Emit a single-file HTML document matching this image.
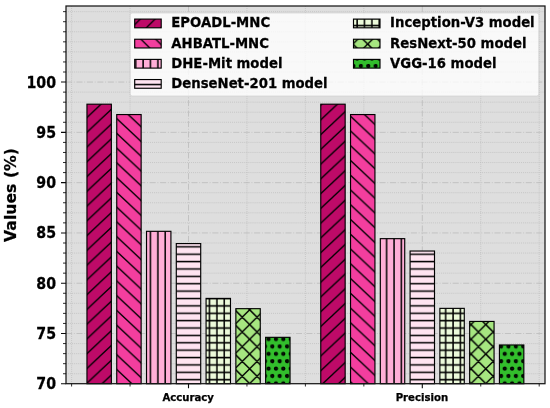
<!DOCTYPE html>
<html lang="en"><head><meta charset="utf-8"><title>Comparative analysis chart</title>
<style>html,body{margin:0;padding:0;background:#fff;}svg{display:block;}text{font-family:"DejaVu Sans", "Liberation Sans", sans-serif;font-weight:bold;fill:#000;}</style></head><body>
<svg width="550" height="408" viewBox="0 0 550 408">
<rect x="0" y="0" width="550" height="408" fill="#ffffff"/>
<defs>
<pattern id="h-ne" patternUnits="userSpaceOnUse" x="0" y="0" width="14.760" height="14.760"><path d="M13.30 -14.76L-30.98 29.52M28.06 -14.76L-16.22 29.52M42.82 -14.76L-1.46 29.52M57.58 -14.76L13.30 29.52" stroke="#000" stroke-width="1.30" fill="none"/></pattern>
<pattern id="h-se" patternUnits="userSpaceOnUse" x="0" y="0" width="14.760" height="14.760"><path d="M-45.38 -14.76L-1.10 29.52M-30.62 -14.76L13.66 29.52M-15.86 -14.76L28.42 29.52M-1.10 -14.76L43.18 29.52M13.66 -14.76L57.94 29.52" stroke="#000" stroke-width="1.30" fill="none"/></pattern>
<pattern id="h-x" patternUnits="userSpaceOnUse" x="0" y="0" width="14.760" height="14.760"><path d="M13.30 -14.76L-30.98 29.52M28.06 -14.76L-16.22 29.52M42.82 -14.76L-1.46 29.52M57.58 -14.76L13.30 29.52M-45.38 -14.76L-1.10 29.52M-30.62 -14.76L13.66 29.52M-15.86 -14.76L28.42 29.52M-1.10 -14.76L43.18 29.52M13.66 -14.76L57.94 29.52" stroke="#000" stroke-width="1.42" fill="none"/></pattern>
<pattern id="h-v" patternUnits="userSpaceOnUse" x="0" y="0" width="7.380" height="7.380"><path d="M2.90 -1V8.38" stroke="#000" stroke-width="1.50" fill="none"/></pattern>
<pattern id="h-h" patternUnits="userSpaceOnUse" x="0" y="0" width="7.380" height="7.380"><path d="M-1 3.30H8.38" stroke="#000" stroke-width="1.50" fill="none"/></pattern>
<pattern id="h-plus" patternUnits="userSpaceOnUse" x="0" y="0" width="7.380" height="7.380"><path d="M2.90 -1V8.38M-1 3.30H8.38" stroke="#000" stroke-width="1.50" fill="none"/></pattern>
<pattern id="h-o" patternUnits="userSpaceOnUse" x="0" y="0" width="7.380" height="14.760"><g stroke="#000" stroke-width="1.50" fill="#0a2a0a"><circle cx="-0.79" cy="-7.77" r="1.35"/><circle cx="-0.79" cy="6.99" r="1.35"/><circle cx="-0.79" cy="21.75" r="1.35"/><circle cx="6.59" cy="-7.77" r="1.35"/><circle cx="6.59" cy="6.99" r="1.35"/><circle cx="6.59" cy="21.75" r="1.35"/><circle cx="13.97" cy="-7.77" r="1.35"/><circle cx="13.97" cy="6.99" r="1.35"/><circle cx="13.97" cy="21.75" r="1.35"/><circle cx="-4.48" cy="-0.39" r="1.35"/><circle cx="-4.48" cy="14.37" r="1.35"/><circle cx="-4.48" cy="29.13" r="1.35"/><circle cx="2.90" cy="-0.39" r="1.35"/><circle cx="2.90" cy="14.37" r="1.35"/><circle cx="2.90" cy="29.13" r="1.35"/><circle cx="10.28" cy="-0.39" r="1.35"/><circle cx="10.28" cy="14.37" r="1.35"/><circle cx="10.28" cy="29.13" r="1.35"/></g></pattern>
<pattern id="d-0-0" patternUnits="userSpaceOnUse" x="99.16" y="2.70" width="15.702" height="14.760"><path d="M-15.70 0.00L31.40 -44.28M-15.70 14.76L31.40 -29.52M-15.70 29.52L31.40 -14.76M-15.70 44.28L31.40 0.00" stroke="#000" stroke-width="1.30" fill="none"/></pattern>
<pattern id="d-0-1" patternUnits="userSpaceOnUse" x="128.94" y="11.96" width="15.702" height="14.760"><path d="M-15.70 -44.28L31.40 0.00M-15.70 -29.52L31.40 14.76M-15.70 -14.76L31.40 29.52M-15.70 0.00L31.40 44.28" stroke="#000" stroke-width="1.30" fill="none"/></pattern>
<pattern id="d-1-0" patternUnits="userSpaceOnUse" x="332.96" y="5.06" width="15.702" height="14.760"><path d="M-15.70 0.00L31.40 -44.28M-15.70 14.76L31.40 -29.52M-15.70 29.52L31.40 -14.76M-15.70 44.28L31.40 0.00" stroke="#000" stroke-width="1.30" fill="none"/></pattern>
<pattern id="d-1-1" patternUnits="userSpaceOnUse" x="362.74" y="9.60" width="15.702" height="14.760"><path d="M-15.70 -44.28L31.40 0.00M-15.70 -29.52L31.40 14.76M-15.70 -14.76L31.40 29.52M-15.70 0.00L31.40 44.28" stroke="#000" stroke-width="1.30" fill="none"/></pattern>
<pattern id="d-l-0" patternUnits="userSpaceOnUse" x="147.95" y="11.45" width="14.760" height="14.760"><path d="M-14.76 0.00L29.52 -44.28M-14.76 14.76L29.52 -29.52M-14.76 29.52L29.52 -14.76M-14.76 44.28L29.52 0.00" stroke="#000" stroke-width="1.30" fill="none"/></pattern>
<pattern id="d-l-1" patternUnits="userSpaceOnUse" x="147.95" y="1.95" width="14.760" height="14.760"><path d="M-14.76 -44.28L29.52 0.00M-14.76 -29.52L29.52 14.76M-14.76 -14.76L29.52 29.52M-14.76 0.00L29.52 44.28" stroke="#000" stroke-width="1.30" fill="none"/></pattern>
</defs>
<rect x="66.00" y="6.00" width="479.00" height="377.70" fill="#DEDEDE"/>
<path d="M66.00 373.74H545.00M66.00 363.68H545.00M66.00 353.63H545.00M66.00 343.57H545.00M66.00 323.45H545.00M66.00 313.39H545.00M66.00 303.34H545.00M66.00 293.28H545.00M66.00 273.16H545.00M66.00 263.10H545.00M66.00 253.05H545.00M66.00 242.99H545.00M66.00 222.87H545.00M66.00 212.81H545.00M66.00 202.76H545.00M66.00 192.70H545.00M66.00 172.58H545.00M66.00 162.52H545.00M66.00 152.47H545.00M66.00 142.41H545.00M66.00 122.29H545.00M66.00 112.23H545.00M66.00 102.18H545.00M66.00 92.12H545.00M66.00 72.00H545.00M66.00 61.94H545.00M66.00 51.89H545.00M66.00 41.83H545.00M66.00 31.77H545.00M66.00 21.71H545.00M66.00 11.65H545.00M71.60 6.00V383.70M130.05 6.00V383.70M246.95 6.00V383.70M305.40 6.00V383.70M363.85 6.00V383.70M480.75 6.00V383.70M539.20 6.00V383.70" stroke="#BEBEBE" stroke-width="0.8" stroke-dasharray="0.9 1.15" fill="none"/>
<path d="M66.00 333.51H545.00M66.00 283.22H545.00M66.00 232.93H545.00M66.00 182.64H545.00M66.00 132.35H545.00M66.00 82.06H545.00M188.50 6.00V383.70M422.30 6.00V383.70" stroke="#B4B4B4" stroke-width="0.65" stroke-dasharray="6.1 1.75 0.85 1.75" fill="none"/>
<rect x="86.96" y="104.19" width="24.40" height="279.51" fill="#BE0A68"/>
<rect x="86.96" y="104.19" width="24.40" height="279.51" fill="url(#d-0-0)" stroke="#000" stroke-width="1.15"/>
<rect x="116.74" y="114.55" width="24.40" height="269.15" fill="#F33E9E"/>
<rect x="116.74" y="114.55" width="24.40" height="269.15" fill="url(#d-0-1)" stroke="#000" stroke-width="1.15"/>
<rect x="146.52" y="231.32" width="24.40" height="152.38" fill="#FFAED7"/>
<rect x="146.52" y="231.32" width="24.40" height="152.38" fill="url(#h-v)" stroke="#000" stroke-width="1.15"/>
<rect x="176.30" y="243.59" width="24.40" height="140.11" fill="#FFE4F1"/>
<rect x="176.30" y="243.59" width="24.40" height="140.11" fill="url(#h-h)" stroke="#000" stroke-width="1.15"/>
<rect x="206.08" y="298.41" width="24.40" height="85.29" fill="#ECFADA"/>
<rect x="206.08" y="298.41" width="24.40" height="85.29" fill="url(#h-plus)" stroke="#000" stroke-width="1.15"/>
<rect x="235.86" y="308.67" width="24.40" height="75.03" fill="#A6E680"/>
<rect x="235.86" y="308.67" width="24.40" height="75.03" fill="url(#h-x)" stroke="#000" stroke-width="1.15"/>
<rect x="265.64" y="337.33" width="24.40" height="46.37" fill="#32BE2C"/>
<rect x="265.64" y="337.33" width="24.40" height="46.37" fill="url(#h-o)" stroke="#000" stroke-width="1.15"/>
<rect x="320.76" y="104.19" width="24.40" height="279.51" fill="#BE0A68"/>
<rect x="320.76" y="104.19" width="24.40" height="279.51" fill="url(#d-1-0)" stroke="#000" stroke-width="1.15"/>
<rect x="350.54" y="114.55" width="24.40" height="269.15" fill="#F33E9E"/>
<rect x="350.54" y="114.55" width="24.40" height="269.15" fill="url(#d-1-1)" stroke="#000" stroke-width="1.15"/>
<rect x="380.32" y="238.66" width="24.40" height="145.04" fill="#FFAED7"/>
<rect x="380.32" y="238.66" width="24.40" height="145.04" fill="url(#h-v)" stroke="#000" stroke-width="1.15"/>
<rect x="410.10" y="251.03" width="24.40" height="132.67" fill="#FFE4F1"/>
<rect x="410.10" y="251.03" width="24.40" height="132.67" fill="url(#h-h)" stroke="#000" stroke-width="1.15"/>
<rect x="439.88" y="308.37" width="24.40" height="75.33" fill="#ECFADA"/>
<rect x="439.88" y="308.37" width="24.40" height="75.33" fill="url(#h-plus)" stroke="#000" stroke-width="1.15"/>
<rect x="469.66" y="321.44" width="24.40" height="62.26" fill="#A6E680"/>
<rect x="469.66" y="321.44" width="24.40" height="62.26" fill="url(#h-x)" stroke="#000" stroke-width="1.15"/>
<rect x="499.44" y="344.98" width="24.40" height="38.72" fill="#32BE2C"/>
<rect x="499.44" y="344.98" width="24.40" height="38.72" fill="url(#h-o)" stroke="#000" stroke-width="1.15"/>
<rect x="66.00" y="6.00" width="479.00" height="377.70" fill="none" stroke="#161616" stroke-width="1.25"/>
<path d="M66.00 373.74H63.00M66.00 363.68H63.00M66.00 353.63H63.00M66.00 343.57H63.00M66.00 323.45H63.00M66.00 313.39H63.00M66.00 303.34H63.00M66.00 293.28H63.00M66.00 273.16H63.00M66.00 263.10H63.00M66.00 253.05H63.00M66.00 242.99H63.00M66.00 222.87H63.00M66.00 212.81H63.00M66.00 202.76H63.00M66.00 192.70H63.00M66.00 172.58H63.00M66.00 162.52H63.00M66.00 152.47H63.00M66.00 142.41H63.00M66.00 122.29H63.00M66.00 112.23H63.00M66.00 102.18H63.00M66.00 92.12H63.00M66.00 72.00H63.00M66.00 61.94H63.00M66.00 51.89H63.00M66.00 41.83H63.00M66.00 31.77H63.00M66.00 21.71H63.00M66.00 11.65H63.00M71.60 383.70V386.50M130.05 383.70V386.50M246.95 383.70V386.50M305.40 383.70V386.50M363.85 383.70V386.50M480.75 383.70V386.50M539.20 383.70V386.50" stroke="#0a0a0a" stroke-width="0.85" fill="none"/>
<path d="M66.00 383.80H61.00M66.00 333.51H61.00M66.00 283.22H61.00M66.00 232.93H61.00M66.00 182.64H61.00M66.00 132.35H61.00M66.00 82.06H61.00M188.50 383.70V388.30M422.30 383.70V388.30" stroke="#0a0a0a" stroke-width="1.1" fill="none"/>
<text transform="translate(56.10 389.35) scale(1 1.060)" font-size="14.20" text-anchor="end" stroke="#000" stroke-width="0.25">70</text>
<text transform="translate(56.10 339.06) scale(1 1.060)" font-size="14.20" text-anchor="end" stroke="#000" stroke-width="0.25">75</text>
<text transform="translate(56.10 288.77) scale(1 1.060)" font-size="14.20" text-anchor="end" stroke="#000" stroke-width="0.25">80</text>
<text transform="translate(56.10 238.48) scale(1 1.060)" font-size="14.20" text-anchor="end" stroke="#000" stroke-width="0.25">85</text>
<text transform="translate(56.10 188.19) scale(1 1.060)" font-size="14.20" text-anchor="end" stroke="#000" stroke-width="0.25">90</text>
<text transform="translate(56.10 137.90) scale(1 1.060)" font-size="14.20" text-anchor="end" stroke="#000" stroke-width="0.25">95</text>
<text transform="translate(56.10 87.61) scale(1 1.060)" font-size="14.20" text-anchor="end" stroke="#000" stroke-width="0.25">100</text>
<text transform="translate(188.20 401.10) scale(1 1.000)" font-size="10.15" text-anchor="middle" stroke="#000" stroke-width="0.25">Accuracy</text>
<text transform="translate(421.90 401.10) scale(1 1.000)" font-size="10.15" text-anchor="middle" stroke="#000" stroke-width="0.25">Precision</text>
<text transform="translate(16.30 195.00) rotate(-90) scale(1 0.970)" font-size="15.70" text-anchor="middle" stroke="#000" stroke-width="0.25">Values (%)</text>
<rect x="130.2" y="13.0" width="408.6" height="83.0" rx="2" ry="2" fill="#ffffff" fill-opacity="0.8" stroke="#cccccc" stroke-opacity="0.8" stroke-width="0.8"/>
<rect x="134.70" y="19.10" width="26.5" height="8.7" fill="#BE0A68"/>
<rect x="134.70" y="19.10" width="26.5" height="8.7" fill="url(#d-l-0)" stroke="#000" stroke-width="1.15"/>
<text transform="translate(171.30 27.40) scale(1 1.080)" font-size="13.25" text-anchor="start" stroke="#000" stroke-width="0.25">EPOADL-MNC</text>
<rect x="134.70" y="39.25" width="26.5" height="8.7" fill="#F33E9E"/>
<rect x="134.70" y="39.25" width="26.5" height="8.7" fill="url(#d-l-1)" stroke="#000" stroke-width="1.15"/>
<text transform="translate(171.30 47.60) scale(1 1.080)" font-size="13.25" text-anchor="start" stroke="#000" stroke-width="0.25">AHBATL-MNC</text>
<rect x="134.70" y="59.40" width="26.5" height="8.7" fill="#FFAED7"/>
<rect x="134.70" y="59.40" width="26.5" height="8.7" fill="url(#h-v)" stroke="#000" stroke-width="1.15"/>
<text transform="translate(171.30 67.80) scale(1 1.080)" font-size="13.25" text-anchor="start" stroke="#000" stroke-width="0.25">DHE-Mit model</text>
<rect x="134.70" y="79.55" width="26.5" height="8.7" fill="#FFE4F1"/>
<rect x="134.70" y="79.55" width="26.5" height="8.7" fill="url(#h-h)" stroke="#000" stroke-width="1.15"/>
<text transform="translate(171.30 88.00) scale(1 1.080)" font-size="13.25" text-anchor="start" stroke="#000" stroke-width="0.25">DenseNet-201 model</text>
<rect x="353.50" y="19.10" width="26.5" height="8.7" fill="#ECFADA"/>
<rect x="353.50" y="19.10" width="26.5" height="8.7" fill="url(#h-plus)" stroke="#000" stroke-width="1.15"/>
<text transform="translate(390.10 27.40) scale(1 1.080)" font-size="13.25" text-anchor="start" stroke="#000" stroke-width="0.25">Inception-V3 model</text>
<rect x="353.50" y="39.25" width="26.5" height="8.7" fill="#A6E680"/>
<rect x="353.50" y="39.25" width="26.5" height="8.7" fill="url(#h-x)" stroke="#000" stroke-width="1.15"/>
<text transform="translate(390.10 47.60) scale(1 1.080)" font-size="13.25" text-anchor="start" stroke="#000" stroke-width="0.25">ResNext-50 model</text>
<rect x="353.50" y="59.40" width="26.5" height="8.7" fill="#32BE2C"/>
<rect x="353.50" y="59.40" width="26.5" height="8.7" fill="url(#h-o)" stroke="#000" stroke-width="1.15"/>
<text transform="translate(390.10 67.80) scale(1 1.080)" font-size="13.25" text-anchor="start" stroke="#000" stroke-width="0.25">VGG-16 model</text>
</svg></body></html>
